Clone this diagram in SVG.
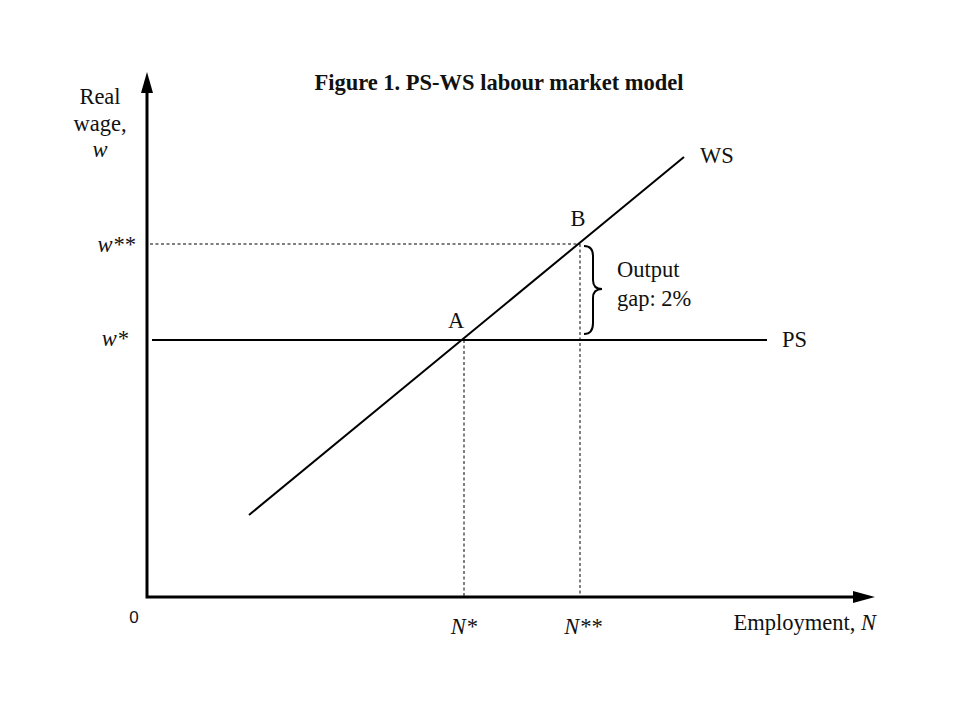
<svg xmlns="http://www.w3.org/2000/svg" width="960" height="720" viewBox="0 0 960 720">
<style>
.t{font-family:"Liberation Serif","Times New Roman",serif;font-size:22.5px;fill:#111}
.i{font-style:italic}
.ax{stroke:#000;stroke-width:3;fill:none}
.ln{stroke:#000;stroke-width:2;fill:none}
.d{stroke:#000;stroke-width:1;stroke-dasharray:3,2.5;fill:none}
</style>
<rect width="960" height="720" fill="#fff"/>
<text class="t" x="499" y="90" text-anchor="middle" font-weight="bold" font-size="22">Figure 1. PS-WS labour market model</text>
<g id="connectors">
<line class="d" x1="150" y1="244" x2="580" y2="244"/>
<line class="d" x1="580" y1="244" x2="580" y2="596"/>
<line class="d" x1="464" y1="340" x2="464" y2="596"/>
</g>
<g id="axes">
<polyline class="ax" points="147,90 147,597 855,597"/>
<polygon points="147,72 141,93 153,93" fill="#000"/>
<polygon points="875,597 853,591 853,603" fill="#000"/>
<text class="t" x="100" y="104" text-anchor="middle">Real</text>
<text class="t" x="100" y="131" text-anchor="middle">wage,</text>
<text class="t i" x="100" y="157" text-anchor="middle">w</text>
<text x="134" y="623" text-anchor="middle" font-family="Liberation Sans, Arial, sans-serif" font-size="17" fill="#111">0</text>
<text class="t" x="876" y="630" text-anchor="end">Employment, <tspan class="i">N</tspan></text>
</g>
<g id="ticks">
<text class="t i" x="135" y="252" text-anchor="end">w**</text>
<text class="t i" x="128" y="346" text-anchor="end">w*</text>
<text class="t i" x="464" y="634" text-anchor="middle">N*</text>
<text class="t i" x="583" y="634" text-anchor="middle">N**</text>
</g>
<g id="PS">
<line class="ln" x1="152" y1="340" x2="767" y2="340"/>
<text class="t" x="782" y="347">PS</text>
</g>
<g id="WS">
<line class="ln" x1="249" y1="515" x2="684" y2="157"/>
<text class="t" x="700" y="163">WS</text>
</g>
<g id="A"><text class="t" x="456" y="328" text-anchor="middle">A</text></g>
<g id="B"><text class="t" x="578" y="226" text-anchor="middle">B</text></g>
<g id="gap">
<path class="ln" stroke-width="1.3" d="M584,246 Q593,246 593,256 L593,280 Q593,289 602,289 Q593,289 593,298 L593,323 Q593,334 584,334"/>
<text class="t" x="617" y="277">Output</text>
<text class="t" x="617" y="306">gap: 2%</text>
</g>
</svg>
